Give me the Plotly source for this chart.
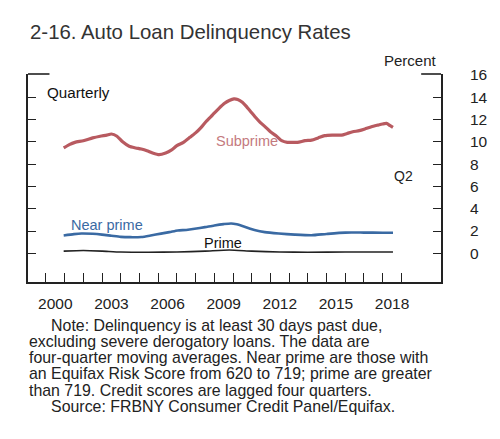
import plotly.graph_objects as go

# ---- data ----
subprime_x = [2000.95, 2001.25, 2001.55, 2002.0, 2002.5, 2002.9, 2003.25, 2003.5, 2003.8, 2004.1,
              2004.45, 2004.8, 2005.1, 2005.4, 2005.7, 2006.05, 2006.4, 2006.7, 2007.0, 2007.35,
              2007.7, 2008.0, 2008.3, 2008.55, 2008.9, 2009.25, 2009.55, 2009.8, 2010.05, 2010.25,
              2010.5, 2010.7, 2010.95, 2011.2, 2011.45, 2011.75, 2012.0, 2012.3, 2012.6, 2012.9,
              2013.15, 2013.45, 2013.85, 2014.2, 2014.55, 2014.9, 2015.3, 2015.8, 2016.1, 2016.4,
              2016.75, 2017.05, 2017.4, 2017.75, 2018.0, 2018.2, 2018.4, 2018.55]
subprime_y = [9.45, 9.75, 9.95, 10.1, 10.35, 10.5, 10.6, 10.7, 10.5, 10.0,
              9.6, 9.45, 9.35, 9.2, 9.0, 8.85, 9.0, 9.25, 9.65, 9.95,
              10.4, 10.8, 11.3, 11.8, 12.4, 13.0, 13.45, 13.7, 13.85, 13.8,
              13.55, 13.2, 12.7, 12.2, 11.75, 11.3, 10.9, 10.55, 10.1, 9.95,
              9.95, 9.95, 10.1, 10.15, 10.35, 10.55, 10.6, 10.6, 10.75, 10.9,
              11.0, 11.15, 11.35, 11.5, 11.6, 11.65, 11.45, 11.3]

nearprime_x = [2000.95, 2001.5, 2001.9, 2002.5, 2003.0, 2003.5, 2004.0, 2004.5, 2005.1, 2005.6,
               2006.15, 2006.6, 2007.05, 2007.5, 2007.95, 2008.5, 2009.0, 2009.5, 2009.9, 2010.2,
               2010.5, 2010.85, 2011.2, 2011.7, 2012.45, 2013.3, 2014.2, 2015.0, 2016.0, 2017.0,
               2018.0, 2018.55]
nearprime_y = [1.6, 1.72, 1.78, 1.75, 1.68, 1.58, 1.48, 1.45, 1.47, 1.6,
               1.77, 1.9, 2.05, 2.1, 2.2, 2.35, 2.5, 2.62, 2.68, 2.6,
               2.45, 2.25, 2.06, 1.9, 1.78, 1.68, 1.62, 1.74, 1.86, 1.86,
               1.85, 1.85]

prime_x = [2000.95, 2002.0, 2003.0, 2004.0, 2005.5, 2007.0, 2008.5, 2009.8, 2011.0, 2012.5,
           2014.0, 2016.0, 2018.55]
prime_y = [0.2, 0.25, 0.2, 0.12, 0.1, 0.12, 0.2, 0.3, 0.2, 0.12, 0.1, 0.12, 0.12]

year_ticks = list(range(2000, 2020))
year_labels = ["2000", "2003", "2006", "2009", "2012", "2015", "2018"]
y_ticks = [0, 2, 4, 6, 8, 10, 12, 14, 16]

note_lines = [
    "    Note: Delinquency is at least 30 days past due,",
    "excluding severe derogatory loans. The data are",
    "four-quarter moving averages. Near prime are those with",
    "an Equifax Risk Score from 620 to 719; prime are greater",
    "than 719. Credit scores are lagged four quarters.",
    "    Source: FRBNY Consumer Credit Panel/Equifax.",
]

FONT = "Liberation Sans, Arial, sans-serif"
SUB_C = "#b85a60"
NEAR_C = "#3a6aa3"
PRIME_C = "#222222"

fig = go.Figure()
fig.add_trace(go.Scatter(x=subprime_x, y=subprime_y, mode="lines",
                         line=dict(color=SUB_C, width=3.2, shape="spline", smoothing=0.6),
                         hoverinfo="skip"))
fig.add_trace(go.Scatter(x=nearprime_x, y=nearprime_y, mode="lines",
                         line=dict(color=NEAR_C, width=2.6, shape="spline", smoothing=0.6),
                         hoverinfo="skip"))
fig.add_trace(go.Scatter(x=prime_x, y=prime_y, mode="lines",
                         line=dict(color=PRIME_C, width=1.6, shape="spline", smoothing=0.6),
                         hoverinfo="skip"))
# invisible trace to activate right axis
fig.add_trace(go.Scatter(x=[2010], y=[5], yaxis="y2", mode="markers",
                         marker=dict(opacity=0), hoverinfo="skip"))
# invisible trace for label axis
fig.add_trace(go.Scatter(x=[2010], y=[5], xaxis="x2", mode="markers",
                         marker=dict(opacity=0), hoverinfo="skip"))

xr = [1999.043, 2021.117]
yr = [-2.57, 16.08]

fig.update_layout(
    width=500, height=439,
    margin=dict(l=28, r=57, t=74, b=157),
    paper_bgcolor="white", plot_bgcolor="white",
    showlegend=False,
    font=dict(family=FONT, color="#222222"),
    xaxis=dict(range=xr, tickvals=year_ticks, ticktext=[""] * len(year_ticks),
               ticks="inside", ticklen=9, tickwidth=1.3, tickcolor="#222",
               showline=True, linecolor="#222", linewidth=1.6,
               showgrid=False, zeroline=False, fixedrange=True),
    xaxis2=dict(range=xr, overlaying="x", side="bottom",
                tickvals=[int(v) + 0.5 for v in year_labels], ticktext=year_labels,
                ticks="", showline=False, showgrid=False, zeroline=False,
                tickfont=dict(size=15.5, color="#222"), ticklabelstandoff=10),
    yaxis=dict(range=yr, tickvals=y_ticks, showticklabels=False,
               ticks="inside", ticklen=8, tickwidth=1.3, tickcolor="#222",
               showline=True, linecolor="#222", linewidth=1.6,
               showgrid=False, zeroline=False),
    yaxis2=dict(range=yr, overlaying="y", side="right", tickvals=y_ticks,
                ticks="inside", ticklen=8, tickwidth=1.3, tickcolor="#222",
                showline=True, linecolor="#222", linewidth=1.6,
                showgrid=False, zeroline=False,
                tickfont=dict(size=15.5, color="#222"), ticklabelstandoff=24),
)

# partial top border segments
fig.add_shape(type="line", xref="paper", yref="paper", x0=0, x1=0.052, y0=1, y1=1,
              line=dict(color="#222", width=1.6))
fig.add_shape(type="line", xref="paper", yref="paper", x0=0.952, x1=1, y0=1, y1=1,
              line=dict(color="#222", width=1.6))

ann = []
ann.append(dict(text="2-16. Auto Loan Delinquency Rates", xref="paper", yref="paper",
                x=-0.0, y=1.0, yshift=42, xanchor="left", yanchor="middle",
                showarrow=False, font=dict(size=20.4, color="#333")))
ann.append(dict(text="Percent", xref="paper", yref="paper", x=0.927, y=1.0, yshift=14,
                xanchor="center", yanchor="middle", showarrow=False,
                font=dict(size=15, color="#222")))
ann.append(dict(text="Quarterly", x=1999.93, y=14.4, xanchor="left", yanchor="middle",
                showarrow=False, font=dict(size=15.2, color="#111")))
ann.append(dict(text="Q2", x=2019.1, y=6.9, xanchor="center", yanchor="middle",
                showarrow=False, font=dict(size=14, color="#222")))
ann.append(dict(text="Subprime", x=2010.75, y=10.1, xanchor="center", yanchor="middle",
                showarrow=False, font=dict(size=14.5, color="#c47a7e")))
ann.append(dict(text="Near prime", x=2003.25, y=2.5, xanchor="center", yanchor="middle",
                showarrow=False, font=dict(size=14.5, color=NEAR_C)))
ann.append(dict(text="Prime", x=2009.45, y=0.9, xanchor="center", yanchor="middle",
                showarrow=False, font=dict(size=14.5, color="#111")))

note_top = 325
for i, line in enumerate(note_lines):
    ann.append(dict(text=line.replace("    ", "&nbsp;&nbsp;&nbsp;&nbsp;&nbsp;"),
                    xref="paper", yref="paper", x=0, xshift=-1,
                    y=0, yshift=(282 - (note_top + i * 16.3)),
                    xanchor="left", yanchor="middle", showarrow=False,
                    font=dict(size=15.9, color="#222")))
fig.update_layout(annotations=ann)

fig.write_html("out.html")
